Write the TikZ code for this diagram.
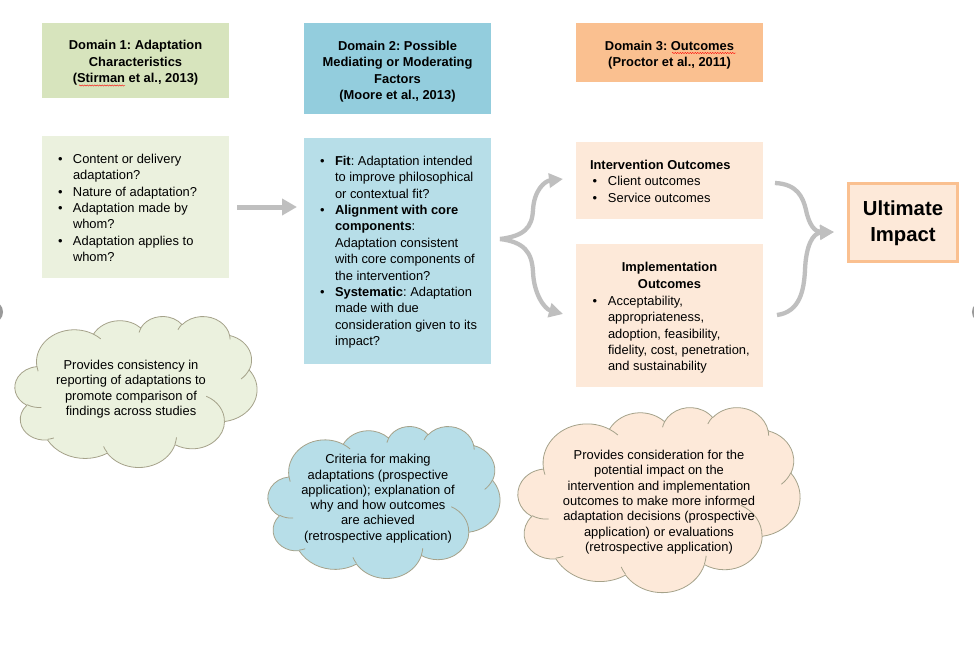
\documentclass[tikz,border=0pt]{standalone}
\usepackage{fontspec}
\setmainfont{Liberation Sans}
\usetikzlibrary{arrows.meta,decorations.pathmorphing}
\definecolor{dOneHead}{HTML}{D7E4BD}
\definecolor{dOneBody}{HTML}{EBF1DE}
\definecolor{dTwoHead}{HTML}{93CDDD}
\definecolor{dTwoBody}{HTML}{B7DEE8}
\definecolor{dThreeHead}{HTML}{FAC090}
\definecolor{dThreeBody}{HTML}{FDE9D9}
\definecolor{arrowgray}{HTML}{BFBFBF}
\definecolor{cloudline}{HTML}{A5A28A}
\definecolor{edgegray}{HTML}{9A9A9A}
\newcommand\bul{\makebox[15pt][l]{\textbullet}}
\newcommand\ind{\hspace*{15pt}}
\frenchspacing
% elliptical arc given by visual start angle and sweep
\newcommand\cloudarc[4]{%
  \pgfmathparse{atan2((#1)*sin(#3),(#2)*cos(#3))}\xdef\cldS{\pgfmathresult}%
  \pgfmathparse{atan2((#1)*sin((#3)+(#4)),(#2)*cos((#3)+(#4)))}\xdef\cldE{\pgfmathresult}%
  \pgfmathparse{mod(\cldE-\cldS+720,360)}\xdef\cldD{\pgfmathresult}}
\newcommand\parc[4]{\pgfextra{\cloudarc{#1}{#2}{#3}{#4}} arc[start angle=\cldS, delta angle=\cldD, x radius=#1, y radius=#2]}
% cloud: fill colour, left, top, width, height
\newcommand\pptcloud[5]{%
\begin{scope}[shift={(#2,#3)},x={({#4/4320*1pt},0pt)},y={(0pt,{-#5/4320*1pt})}]
 \filldraw[fill=#1,draw=cloudline,line width=0.8pt,line join=round] (390,1437)
   \parc{675.3}{919}{-190.48748}{123.78053}
   \parc{533.3}{726.7}{-144.10238}{89.94523}
   \parc{436.5}{594.5}{-145.80792}{99.72302}
   \parc{485.7}{659.5}{-130.98607}{117.24173}
   \parc{533.3}{727.3}{-78.70888}{109.02692}
   \parc{677.5}{922}{-46.26725}{130.269}
   \parc{578.5}{786.7}{0.62502}{114.03333}
   \parc{675.2}{921.5}{22.4516}{115.17255}
   \parc{772}{1054.3}{66.24263}{75.71102}
   \parc{436}{591.8}{-274.94208}{146.73557}
   \parc{434.5}{594.5}{-246.8285}{152.51885} -- cycle;
 \draw[cloudline,line width=0.8pt]
   (469.3,2617.7) \parc{434.5}{594.5}{86.742}{26.4295}
   (692.8,3489.9) \parc{436}{591.8}{73.61047}{11.44747}
   (1647.8,3909.0) \parc{675.2}{921.5}{137.62415}{14.0811}
   (2882.7,3475.1) \parc{675.2}{921.5}{6.45327}{15.99835}
   (3412.9,2295.4) \parc{578.5}{786.7}{-70.29235}{70.91737}
   (4179.8,1535.4) \parc{533.3}{727.3}{30.31803}{27.7515}
   (3832.4,542.6) \parc{485.7}{659.5}{-13.74433}{14.8589}
   (2907.8,395.2) \parc{485.7}{659.5}{-149.18145}{18.19537}
   (2214.1,472.0) \parc{436.5}{594.5}{-163.49427}{17.68635}
   (1400.0,519.2) \parc{675.3}{919}{-66.70695}{12.31935}
   (412.7,1578.9) \parc{675.3}{919}{157.65435}{11.85817};
\end{scope}}
\begin{document}
\begin{tikzpicture}[x=1pt,y=-1pt,
  panel/.style={draw=none,inner sep=0pt,outer sep=0pt,anchor=north west},
  txt/.style={inner sep=0pt,outer sep=0pt,text=black,font=\frenchspacing\fontsize{12.9}{16.4}\selectfont},
  headtxt/.style={txt,align=center,anchor=base,font=\frenchspacing\fontsize{12.9}{16.4}\selectfont\bfseries},
  listtxt/.style={txt,align=left,anchor=base west},
  cloudtxt/.style={inner sep=0pt,outer sep=0pt,text=black,align=center,anchor=base,font=\frenchspacing\fontsize{12.9}{15.3}\selectfont},
  bigarrow/.style={draw=arrowgray,line width=5pt,-{Triangle[length=15pt,width=16pt]}},
  curvearrow/.style={draw=arrowgray,line width=4.3pt,-{Triangle[length=14pt,width=14pt]}},
  squiggle/.style={draw=red,line width=0.4pt,decorate,decoration={snake,amplitude=0.6pt,segment length=2.5pt}}
]
\useasboundingbox (0,0) rectangle (974,645);
\clip (0,0) rectangle (974,645);
\fill[white] (0,0) rectangle (974,645);

% edge marks
\draw[edgegray,line width=3pt] (-8,312) circle (9.5);
\draw[edgegray,line width=3pt] (983,312) circle (9.5);

% header panels
\node[panel,fill=dOneHead,minimum width=187pt,minimum height=75pt] (h1) at (42,23) {};
\node[panel,fill=dTwoHead,minimum width=187pt,minimum height=91pt] (h2) at (304,23) {};
\node[panel,fill=dThreeHead,minimum width=187pt,minimum height=59pt] (h3) at (576,23) {};

\node[headtxt] (h1t) at (135.5,82.6) {Domain 1: Adaptation\\Characteristics\\(Stirman et al., 2013)};
\node[headtxt] (h2t) at (397.5,99.6) {Domain 2: Possible\\Mediating or Moderating\\Factors\\(Moore et al., 2013)};
\node[headtxt] (h3t) at (669.5,66.4) {Domain 3: Outcomes\\(Proctor et al., 2011)};
\draw[squiggle] (79,85.5) -- (125,85.5);
\draw[squiggle] (672,53) -- (736,53);

% body panels
\node[panel,fill=dOneBody,minimum width=187pt,minimum height=142pt] (b1) at (42,136) {};
\node[panel,fill=dTwoBody,minimum width=187pt,minimum height=226pt] (b2) at (304,138) {};
\node[panel,fill=dThreeBody,minimum width=187pt,minimum height=77pt] (io) at (576,142) {};
\node[panel,fill=dThreeBody,minimum width=187pt,minimum height=143pt] (im) at (576,244) {};
\node[draw=dThreeHead,line width=3pt,fill=dThreeBody,minimum width=109.6pt,minimum height=78.6pt,anchor=north west,inner sep=0pt] (ult) at (846.7,181.7) {};

\node[listtxt] (b1t) at (58,261.6) {\bul Content or delivery\\\ind adaptation?\\\bul Nature of adaptation?\\\bul Adaptation made by\\\ind whom?\\\bul Adaptation applies to\\\ind whom?};
\node[listtxt] (b2t) at (320,345.7) {\bul\textbf{Fit}: Adaptation intended\\\ind to improve philosophical\\\ind or contextual fit?\\\bul\textbf{Alignment with core}\\\ind\textbf{components}:\\\ind Adaptation consistent\\\ind with core components of\\\ind the intervention?\\\bul\textbf{Systematic}: Adaptation\\\ind made with due\\\ind consideration given to its\\\ind impact?};
\node[listtxt] (iot) at (590,202.3) {\textbf{Intervention Outcomes}\\\hspace*{2.7pt}\makebox[15.3pt][l]{\textbullet}Client outcomes\\\hspace*{2.7pt}\makebox[15.3pt][l]{\textbullet}Service outcomes};
\node[headtxt] (imh) at (669.5,288) {Implementation\\Outcomes};
\node[listtxt] (imt) at (592.7,370.8) {\makebox[15.3pt][l]{\textbullet}Acceptability,\\\hspace*{15.3pt}appropriateness,\\\hspace*{15.3pt}adoption, feasibility,\\\hspace*{15.3pt}fidelity, cost, penetration,\\\hspace*{15.3pt}and sustainability};
\node[txt,align=center,anchor=base,font=\fontsize{20.3}{26.7}\selectfont\bfseries] (ultt) at (903,241.7) {Ultimate\\Impact};

% clouds
\pptcloud{dOneBody}{15}{316}{242}{151}
\pptcloud{dTwoBody}{268}{426}{232}{152}
\pptcloud{dThreeBody}{518}{407}{282}{185}
\node[cloudtxt] (c1t) at (131,415.5) {Provides consistency in\\reporting of adaptations to\\promote comparison of\\findings across studies};
\node[cloudtxt] (c2t) at (378,540.2) {Criteria for making\\adaptations (prospective\\application); explanation of\\why and how outcomes\\are achieved\\(retrospective application)};
\node[cloudtxt] (c3t) at (659,551.3) {Provides consideration for the\\potential impact on the\\intervention and implementation\\outcomes to make more informed\\adaptation decisions (prospective\\application) or evaluations\\(retrospective application)};

% connectors
\draw[bigarrow,shorten <=8pt,shorten >=7pt] (b1.east) -- (b1.east -| b2.west);
\coordinate (brace) at (500,239);
\coordinate (ioIn) at (563,179);
\coordinate (imIn) at (563,314);
\coordinate (ioOut) at (775,183);
\coordinate (imOut) at (777,315);
\coordinate (ultIn) at (834,232);
\draw[curvearrow] (brace) .. controls (524,236) and (532,228) .. (533,210) .. controls (534,190) and (545,181) .. (ioIn);
\draw[curvearrow] (brace) .. controls (524,242) and (532,252) .. (533,272) .. controls (534,295) and (545,309) .. (imIn);
\draw[curvearrow] (ioOut) .. controls (797,184) and (803,197) .. (806,210) .. controls (809,225) and (815,232) .. (ultIn);
\draw[curvearrow] (imOut) .. controls (800,312) and (804,290) .. (805,270) .. controls (806,245) and (813,233) .. (ultIn);
\end{tikzpicture}
\end{document}
